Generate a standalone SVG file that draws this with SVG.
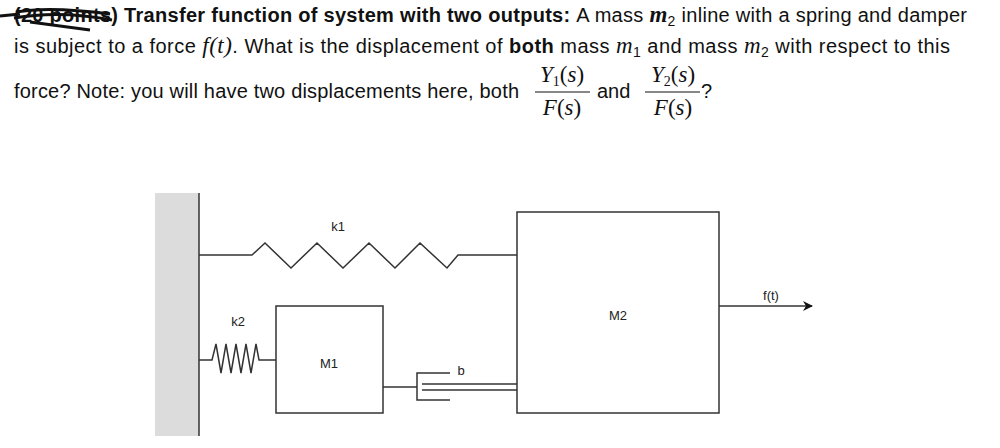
<svg xmlns="http://www.w3.org/2000/svg" width="1000" height="448" viewBox="0 0 1000 448">
<style>
.t{font-family:"Liberation Sans",Arial,sans-serif;font-size:20px;fill:#111}
.b{font-weight:bold}
.m{font-family:"Liberation Serif","DejaVu Serif",serif;font-style:italic;font-size:23px;fill:#111}
.l{font-family:"Liberation Sans",Arial,sans-serif;font-size:13px;fill:#222}
.s{fill:none;stroke:#333;stroke-width:1.5}
</style>
<defs><marker id="ah" markerWidth="10" markerHeight="10" refX="9" refY="5" orient="auto" markerUnits="userSpaceOnUse"><path d="M0,0 L10,5 L0,10 L3,5 Z" fill="#111"/></marker></defs>
<g id="text">
<text class="t b" x="14" y="22" textLength="953" lengthAdjust="spacing">(20 points) Transfer function of system with two outputs: <tspan font-weight="normal">A mass </tspan><tspan class="m">m</tspan><tspan font-weight="normal" font-size="14" dy="4">2</tspan><tspan font-weight="normal" dy="-4"> inline with a spring and damper</tspan></text>
<path d="M0,16 L20,14 M16,12 Q50,6 110,14 M14,18 Q60,10 112,20 M30,22 L90,30" stroke="#111" stroke-width="3" fill="none"/>
<text class="t" x="14" y="53" textLength="936" lengthAdjust="spacing">is subject to a force <tspan class="m">f</tspan><tspan class="m" font-style="normal">(</tspan><tspan class="m">t</tspan><tspan class="m" font-style="normal">)</tspan>. What is the displacement of <tspan font-weight="bold">both</tspan> mass <tspan class="m">m</tspan><tspan font-size="14" dy="4">1</tspan><tspan dy="-4"> and mass </tspan><tspan class="m">m</tspan><tspan font-size="14" dy="4">2</tspan><tspan dy="-4"> with respect to this</tspan></text>
<text class="t" x="14" y="98" textLength="505" lengthAdjust="spacing">force? Note: you will have two displacements here, both</text>
<text class="m" x="562" y="82" text-anchor="middle">Y<tspan font-style="normal" font-size="14" dy="4">1</tspan><tspan font-style="normal" dy="-4">(</tspan>s<tspan font-style="normal">)</tspan></text>
<line x1="535" y1="92" x2="590" y2="92" stroke="#111" stroke-width="1.2"/>
<text class="m" x="562" y="115" text-anchor="middle">F<tspan font-style="normal">(</tspan>s<tspan font-style="normal">)</tspan></text>
<text class="t" x="597" y="98">and</text>
<text class="m" x="673" y="82" text-anchor="middle">Y<tspan font-style="normal" font-size="14" dy="4">2</tspan><tspan font-style="normal" dy="-4">(</tspan>s<tspan font-style="normal">)</tspan></text>
<line x1="645" y1="92" x2="700" y2="92" stroke="#111" stroke-width="1.2"/>
<text class="m" x="673" y="115" text-anchor="middle">F<tspan font-style="normal">(</tspan>s<tspan font-style="normal">)</tspan></text>
<text class="t" x="701" y="98">?</text>
</g>
<g id="wall"><rect x="155" y="193" width="44" height="243" fill="#dcdcdc"/><line x1="199" y1="193" x2="199" y2="436" class="s"/></g>
<g id="M1"><rect x="276" y="306" width="107" height="107" class="s" fill="#fff"/><text class="l" x="329" y="368" text-anchor="middle">M1</text></g>
<g id="M2"><rect x="517" y="212" width="202" height="201" class="s" fill="#fff"/><text class="l" x="618" y="320" text-anchor="middle">M2</text></g>
<g id="connectors">
<polyline class="s" points="199,255 252,255 265,243 291,268 317,243 343,268 369,243 395,268 420,243 447,268 458,255 517,255"/>
<text class="l" x="338" y="231" text-anchor="middle">k1</text>
<polyline class="s" points="199,360 212,360 216,344 221,373 226,344 231,373 236,344 241,373 246,344 251,373 256,344 259,360 276,360"/>
<text class="l" x="238" y="326" text-anchor="middle">k2</text>
<polyline class="s" points="383,387 417,387"/>
<polyline class="s" points="450,373 417,373 417,400 450,400"/>
<line class="s" x1="422" y1="384" x2="517" y2="384"/>
<line class="s" x1="422" y1="390" x2="517" y2="390"/>
<text class="l" x="461" y="375" text-anchor="middle">b</text>
<line class="s" x1="719" y1="306" x2="812" y2="306" marker-end="url(#ah)"/>
<text class="l" x="771" y="300" text-anchor="middle">f(t)</text>
</g>
</svg>
